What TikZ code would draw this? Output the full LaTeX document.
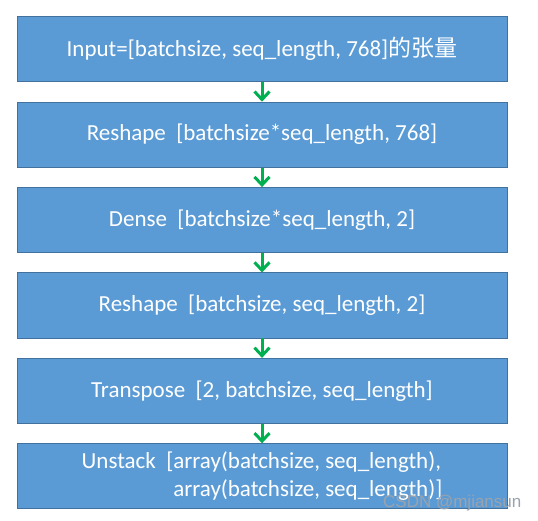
\documentclass[tikz,border=0pt]{standalone}
\usepackage{fontspec}
\setmainfont{Carlito}
\newfontfamily\cjkfont{Noto Sans CJK SC}
\newfontfamily\wmfont{Liberation Sans}
\usetikzlibrary{arrows.meta}
\definecolor{boxfill}{HTML}{5B9BD5}
\definecolor{boxline}{HTML}{41719C}
\definecolor{arrgreen}{HTML}{00B050}
\definecolor{wmgray}{HTML}{9AA3AD}
\begin{document}
\begin{tikzpicture}[x=1pt,y=-1pt,
  stepbox/.style={draw=boxline,line width=0.9pt,fill=boxfill,minimum width=490pt,minimum height=65pt,
    inner sep=0pt,anchor=north,text=white,font=\fontsize{23}{28}\selectfont},
  arr/.style={draw=arrgreen,line width=3pt,-{Straight Barb[length=8pt,width=15pt,line width=3pt]}}]
\useasboundingbox (0,0) rectangle (538,521);
\node[stepbox] (b1) at (262,16.3) {Input=[batchsize, seq\_length, 768]{\cjkfont 的张量}};
\node[stepbox] (b2) at (262,101.7) {Reshape\ \ [batchsize*seq\_length, 768]};
\node[stepbox] (b3) at (262,187.1) {Dense\ \ [batchsize*seq\_length, 2]};
\node[stepbox] (b4) at (262,272.5) {Reshape\ \ [batchsize, seq\_length, 2]};
\node[stepbox] (b5) at (262,357.9) {Transpose\ \ [2, batchsize, seq\_length]};
\node[stepbox,align=left] (b6) at (262,443.3) {Unstack\ \ [array(batchsize, seq\_length),\\\phantom{Unstack\ \ [}array(batchsize, seq\_length)]};
\draw[arr] (b1.south) -- (b2.north);
\draw[arr] (b2.south) -- (b3.north);
\draw[arr] (b3.south) -- (b4.north);
\draw[arr] (b4.south) -- (b5.north);
\draw[arr] (b5.south) -- (b6.north);
\node[anchor=base west,inner sep=0pt,text=wmgray,font=\wmfont\fontsize{17}{17}\selectfont] (wm) at (383,507) {CSDN @mjiansun};
\end{tikzpicture}
\end{document}
